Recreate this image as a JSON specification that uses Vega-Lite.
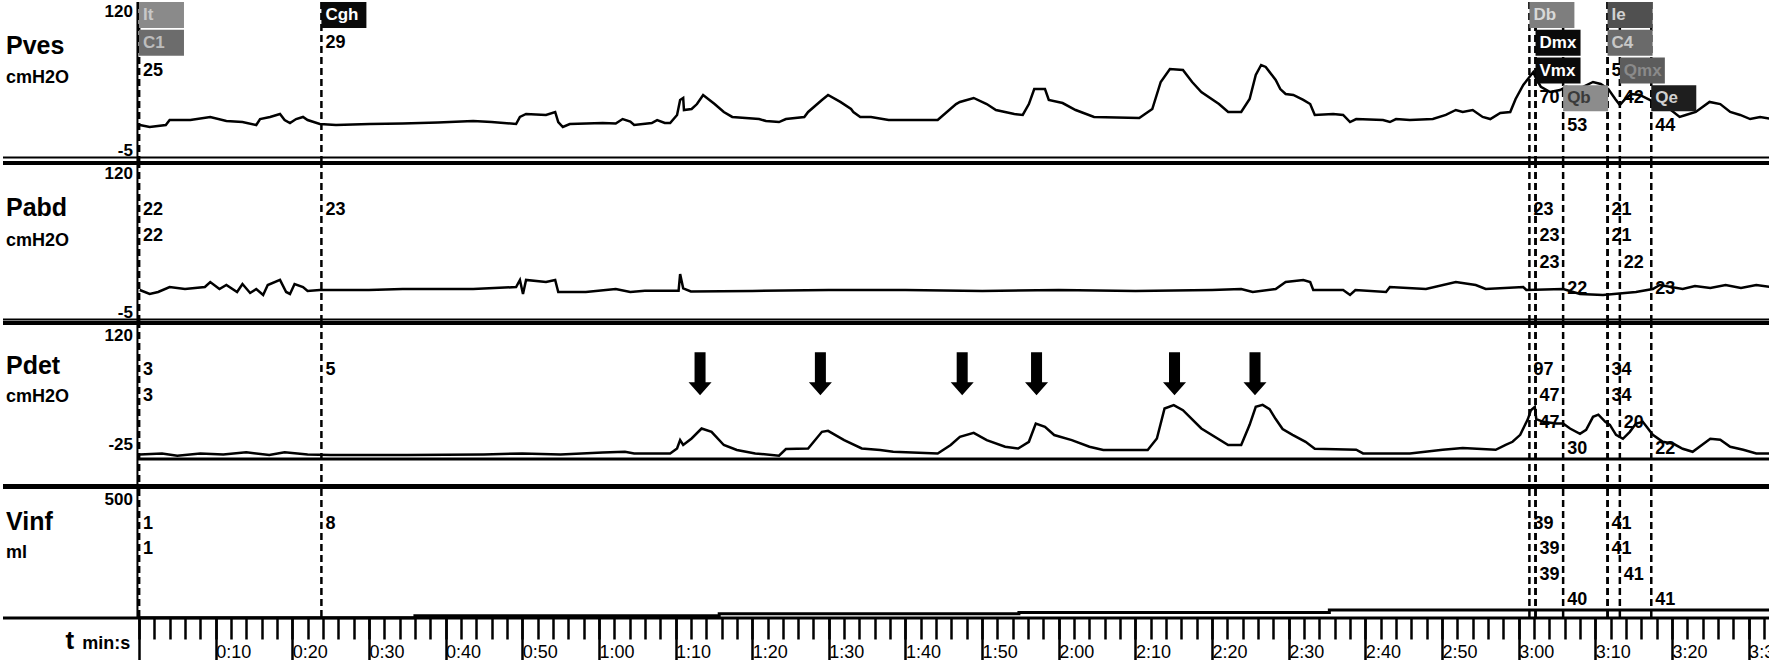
{
"$schema": "https://vega.github.io/schema/vega-lite/v6.json",
"padding": 0,
"background": "white",
"spacing": 0,
"bounds": "flush",
"config": {"view": {"stroke": null}, "font": "Liberation Sans"},
"datasets": {
"events": [
{"name":"It","t":0,"row":1},{"name":"C1","t":0,"row":2},{"name":"Cgh","t":23.8,"row":1},
{"name":"Db","t":181.4,"row":1},{"name":"Dmx","t":182.2,"row":2},{"name":"Vmx","t":182.2,"row":3},
{"name":"Qb","t":185.8,"row":4},{"name":"Ie","t":191.6,"row":1},{"name":"C4","t":191.6,"row":2},
{"name":"Qmx","t":193.2,"row":3},{"name":"Qe","t":197.3,"row":4}],
"vals": [
{"ch":"Pves","t":0,"row":3,"label":"25"},{"ch":"Pves","t":23.8,"row":2,"label":"29"},{"ch":"Pves","t":182.2,"row":4,"label":"70"},{"ch":"Pves","t":185.8,"row":5,"label":"53"},{"ch":"Pves","t":191.6,"row":3,"label":"55"},{"ch":"Pves","t":193.2,"row":4,"label":"42"},{"ch":"Pves","t":197.3,"row":5,"label":"44"},
{"ch":"Pabd","t":0,"row":2,"label":"22"},{"ch":"Pabd","t":0,"row":3,"label":"22"},{"ch":"Pabd","t":23.8,"row":2,"label":"23"},{"ch":"Pabd","t":181.4,"row":2,"label":"23"},{"ch":"Pabd","t":182.2,"row":3,"label":"23"},{"ch":"Pabd","t":182.2,"row":4,"label":"23"},{"ch":"Pabd","t":185.8,"row":5,"label":"22"},{"ch":"Pabd","t":191.6,"row":2,"label":"21"},{"ch":"Pabd","t":191.6,"row":3,"label":"21"},{"ch":"Pabd","t":193.2,"row":4,"label":"22"},{"ch":"Pabd","t":197.3,"row":5,"label":"23"},
{"ch":"Pdet","t":0,"row":2,"label":"3"},{"ch":"Pdet","t":0,"row":3,"label":"3"},{"ch":"Pdet","t":23.8,"row":2,"label":"5"},{"ch":"Pdet","t":181.4,"row":2,"label":"97"},{"ch":"Pdet","t":182.2,"row":3,"label":"47"},{"ch":"Pdet","t":182.2,"row":4,"label":"47"},{"ch":"Pdet","t":185.8,"row":5,"label":"30"},{"ch":"Pdet","t":191.6,"row":2,"label":"34"},{"ch":"Pdet","t":191.6,"row":3,"label":"34"},{"ch":"Pdet","t":193.2,"row":4,"label":"20"},{"ch":"Pdet","t":197.3,"row":5,"label":"22"},
{"ch":"Vinf","t":0,"row":2,"label":"1"},{"ch":"Vinf","t":0,"row":3,"label":"1"},{"ch":"Vinf","t":23.8,"row":2,"label":"8"},{"ch":"Vinf","t":181.4,"row":2,"label":"39"},{"ch":"Vinf","t":182.2,"row":3,"label":"39"},{"ch":"Vinf","t":182.2,"row":4,"label":"39"},{"ch":"Vinf","t":185.8,"row":5,"label":"40"},{"ch":"Vinf","t":191.6,"row":2,"label":"41"},{"ch":"Vinf","t":191.6,"row":3,"label":"41"},{"ch":"Vinf","t":193.2,"row":4,"label":"41"},{"ch":"Vinf","t":197.3,"row":5,"label":"41"}],
"arrows": [{"t":73.2},{"t":88.9},{"t":107.4},{"t":117.1},{"t":135.1},{"t":145.6}],
"pves": [
{"t":0.1,"v":20.8},{"t":1.4,"v":19.2},{"t":3.5,"v":20.8},{"t":4.0,"v":24.8},{"t":6.7,"v":24.8},{"t":9.3,"v":27.3},{"t":11.4,"v":24.0},{"t":13.5,"v":23.2},{"t":15.3,"v":20.8},{"t":15.8,"v":25.6},{"t":17.1,"v":27.3},{"t":18.4,"v":29.7},{"t":19.0,"v":24.8},{"t":19.7,"v":22.4},{"t":20.5,"v":25.6},{"t":21.4,"v":27.3},{"t":22.0,"v":24.8},{"t":23.6,"v":21.6},{"t":25.7,"v":20.8},{"t":30.1,"v":21.6},{"t":34.4,"v":22.0},{"t":39.0,"v":22.8},{"t":43.6,"v":24.0},{"t":46.0,"v":23.2},{"t":49.2,"v":21.6},{"t":49.7,"v":27.3},{"t":50.5,"v":29.7},{"t":53.1,"v":28.9},{"t":54.3,"v":31.3},{"t":54.7,"v":23.2},{"t":55.3,"v":19.2},{"t":56.2,"v":21.6},{"t":60.5,"v":22.4},{"t":62.2,"v":22.0},{"t":63.1,"v":25.6},{"t":64.1,"v":23.6},{"t":64.6,"v":20.8},{"t":66.9,"v":22.4},{"t":67.6,"v":24.8},{"t":68.6,"v":22.4},{"t":69.3,"v":22.4},{"t":70.2,"v":28.9},{"t":70.6,"v":41.0},{"t":71.0,"v":42.6},{"t":71.1,"v":32.9},{"t":72.1,"v":33.7},{"t":72.8,"v":37.7},{"t":73.6,"v":45.0},{"t":75.1,"v":37.7},{"t":76.3,"v":31.3},{"t":77.4,"v":27.3},{"t":80.9,"v":25.6},{"t":81.8,"v":24.0},{"t":83.5,"v":23.2},{"t":84.4,"v":25.6},{"t":86.8,"v":27.3},{"t":87.3,"v":31.3},{"t":89.1,"v":41.0},{"t":89.9,"v":45.0},{"t":91.5,"v":39.4},{"t":92.9,"v":33.7},{"t":93.2,"v":31.3},{"t":94.1,"v":27.3},{"t":95.5,"v":27.3},{"t":97.8,"v":24.8},{"t":104.2,"v":24.8},{"t":106.6,"v":37.7},{"t":107.1,"v":39.4},{"t":108.9,"v":42.6},{"t":110.6,"v":37.7},{"t":111.8,"v":32.9},{"t":114.2,"v":29.7},{"t":115.3,"v":28.9},{"t":116.1,"v":37.7},{"t":116.8,"v":49.8},{"t":118.2,"v":49.8},{"t":118.7,"v":41.0},{"t":120.5,"v":38.5},{"t":122.2,"v":32.9},{"t":124.6,"v":27.3},{"t":130.5,"v":26.5},{"t":132.2,"v":33.7},{"t":133.3,"v":55.5},{"t":134.5,"v":66.0},{"t":136.2,"v":65.2},{"t":137.4,"v":55.5},{"t":138.6,"v":47.4},{"t":140.9,"v":37.7},{"t":142.1,"v":31.3},{"t":143.8,"v":31.3},{"t":144.9,"v":41.8},{"t":145.7,"v":61.1},{"t":146.4,"v":69.2},{"t":147.0,"v":67.6},{"t":148.3,"v":57.1},{"t":148.9,"v":49.8},{"t":149.6,"v":45.8},{"t":150.6,"v":45.0},{"t":151.9,"v":41.0},{"t":152.8,"v":37.7},{"t":153.4,"v":28.9},{"t":155.8,"v":29.7},{"t":157.1,"v":28.9},{"t":158.0,"v":23.2},{"t":158.8,"v":25.6},{"t":162.3,"v":24.8},{"t":163.2,"v":23.2},{"t":164.0,"v":25.6},{"t":165.8,"v":24.8},{"t":168.8,"v":25.6},{"t":170.5,"v":28.9},{"t":171.8,"v":32.9},{"t":172.7,"v":31.3},{"t":174.0,"v":32.9},{"t":175.3,"v":27.3},{"t":176.3,"v":25.6},{"t":177.6,"v":30.5},{"t":178.9,"v":31.3},{"t":179.6,"v":41.8},{"t":180.6,"v":53.1},{"t":181.9,"v":63.5},{"t":182.3,"v":57.9},{"t":182.9,"v":51.5},{"t":184.1,"v":47.4},{"t":185.4,"v":49.0},{"t":186.2,"v":51.5},{"t":187.5,"v":49.8},{"t":188.4,"v":51.5},{"t":189.7,"v":55.5},{"t":190.7,"v":53.9},{"t":191.7,"v":49.8},{"t":192.6,"v":41.8},{"t":193.2,"v":36.9},{"t":193.9,"v":41.8},{"t":194.7,"v":45.8},{"t":195.8,"v":45.0},{"t":197.1,"v":41.0},{"t":198.4,"v":36.9},{"t":199.7,"v":33.7},{"t":201.0,"v":27.3},{"t":201.8,"v":28.9},{"t":203.1,"v":31.3},{"t":204.9,"v":39.4},{"t":206.3,"v":37.7},{"t":207.6,"v":31.3},{"t":208.9,"v":28.9},{"t":210.2,"v":25.6},{"t":211.5,"v":27.3},{"t":213.0,"v":25.6}],
"pabd": [
{"t":0.1,"v":19.2},{"t":1.4,"v":16.0},{"t":2.5,"v":17.6},{"t":4.0,"v":21.6},{"t":6.0,"v":20.0},{"t":8.6,"v":21.6},{"t":9.3,"v":25.6},{"t":10.5,"v":20.0},{"t":11.4,"v":23.2},{"t":12.8,"v":17.6},{"t":13.5,"v":24.0},{"t":14.5,"v":16.8},{"t":15.3,"v":20.0},{"t":16.2,"v":15.2},{"t":16.8,"v":23.2},{"t":18.4,"v":27.3},{"t":19.2,"v":17.6},{"t":19.7,"v":16.0},{"t":20.3,"v":24.0},{"t":21.4,"v":21.6},{"t":22.0,"v":18.4},{"t":23.6,"v":19.2},{"t":30.0,"v":19.2},{"t":34.4,"v":20.0},{"t":43.6,"v":20.0},{"t":49.2,"v":21.6},{"t":49.7,"v":27.3},{"t":50.1,"v":16.0},{"t":50.5,"v":27.3},{"t":53.1,"v":25.6},{"t":54.3,"v":27.3},{"t":54.7,"v":17.6},{"t":58.3,"v":17.6},{"t":62.2,"v":20.0},{"t":64.1,"v":17.6},{"t":66.0,"v":18.5},{"t":70.4,"v":18.5},{"t":70.6,"v":32.1},{"t":71.0,"v":20.5},{"t":72.0,"v":18.0},{"t":80.0,"v":18.4},{"t":90.0,"v":19.2},{"t":100.0,"v":19.2},{"t":110.0,"v":18.4},{"t":120.0,"v":19.2},{"t":130.0,"v":18.4},{"t":140.0,"v":19.2},{"t":143.8,"v":20.0},{"t":145.3,"v":17.6},{"t":148.3,"v":20.0},{"t":149.6,"v":25.6},{"t":151.9,"v":27.3},{"t":152.8,"v":25.6},{"t":153.2,"v":19.2},{"t":157.1,"v":19.2},{"t":158.0,"v":15.2},{"t":158.7,"v":19.2},{"t":162.7,"v":17.6},{"t":163.2,"v":21.6},{"t":167.9,"v":20.0},{"t":171.8,"v":25.6},{"t":174.4,"v":23.2},{"t":175.7,"v":20.0},{"t":180.6,"v":21.6},{"t":181.0,"v":19.2},{"t":185.8,"v":20.0},{"t":188.0,"v":16.0},{"t":191.0,"v":15.2},{"t":195.3,"v":17.6},{"t":197.5,"v":20.0},{"t":198.4,"v":23.2},{"t":201.4,"v":20.0},{"t":203.0,"v":22.4},{"t":205.0,"v":20.8},{"t":207.0,"v":23.2},{"t":209.0,"v":20.8},{"t":211.0,"v":23.2},{"t":213.0,"v":21.6}],
"pdet": [
{"t":0.1,"v":4.0},{"t":3.0,"v":5.0},{"t":5.0,"v":3.0},{"t":8.0,"v":5.0},{"t":11.0,"v":4.0},{"t":14.0,"v":6.0},{"t":17.0,"v":3.5},{"t":19.0,"v":6.0},{"t":22.0,"v":4.0},{"t":25.0,"v":3.5},{"t":35.0,"v":3.5},{"t":45.0,"v":4.0},{"t":50.0,"v":5.0},{"t":55.0,"v":4.0},{"t":60.5,"v":5.9},{"t":63.4,"v":6.5},{"t":64.6,"v":4.9},{"t":69.3,"v":4.9},{"t":70.2,"v":9.5},{"t":70.6,"v":17.0},{"t":71.0,"v":12.6},{"t":72.1,"v":18.5},{"t":73.4,"v":27.5},{"t":74.7,"v":24.5},{"t":76.3,"v":12.6},{"t":78.0,"v":8.1},{"t":80.4,"v":5.0},{"t":83.5,"v":2.9},{"t":84.4,"v":9.0},{"t":87.3,"v":9.5},{"t":89.1,"v":24.5},{"t":89.9,"v":25.4},{"t":92.0,"v":17.0},{"t":94.3,"v":9.5},{"t":96.7,"v":8.1},{"t":98.4,"v":6.5},{"t":104.2,"v":5.0},{"t":105.9,"v":12.6},{"t":107.1,"v":20.0},{"t":108.9,"v":23.6},{"t":110.6,"v":17.0},{"t":113.0,"v":11.0},{"t":114.7,"v":9.5},{"t":116.1,"v":15.5},{"t":117.0,"v":32.0},{"t":118.2,"v":29.0},{"t":119.4,"v":21.6},{"t":121.7,"v":17.0},{"t":124.0,"v":11.0},{"t":125.8,"v":8.1},{"t":131.6,"v":8.1},{"t":132.8,"v":18.5},{"t":133.8,"v":45.5},{"t":135.0,"v":48.6},{"t":136.2,"v":44.0},{"t":138.6,"v":27.5},{"t":142.1,"v":12.6},{"t":143.8,"v":12.6},{"t":144.9,"v":30.8},{"t":145.7,"v":47.0},{"t":146.6,"v":48.8},{"t":147.5,"v":45.0},{"t":148.3,"v":36.0},{"t":149.2,"v":27.0},{"t":150.5,"v":21.8},{"t":152.2,"v":15.5},{"t":153.4,"v":9.2},{"t":158.8,"v":8.3},{"t":159.7,"v":5.0},{"t":165.8,"v":5.0},{"t":170.1,"v":8.3},{"t":172.7,"v":10.0},{"t":177.0,"v":8.3},{"t":178.3,"v":12.8},{"t":179.2,"v":15.5},{"t":180.2,"v":21.8},{"t":181.2,"v":36.0},{"t":181.6,"v":44.0},{"t":182.1,"v":47.0},{"t":182.3,"v":36.0},{"t":183.2,"v":33.5},{"t":184.9,"v":32.0},{"t":185.8,"v":32.0},{"t":186.7,"v":27.5},{"t":188.0,"v":22.7},{"t":188.8,"v":26.3},{"t":189.7,"v":38.0},{"t":190.4,"v":40.0},{"t":191.3,"v":33.5},{"t":191.9,"v":30.8},{"t":192.7,"v":21.8},{"t":193.6,"v":18.2},{"t":194.5,"v":24.5},{"t":195.3,"v":32.0},{"t":196.2,"v":33.5},{"t":197.5,"v":21.8},{"t":198.8,"v":15.5},{"t":200.2,"v":13.7},{"t":201.4,"v":9.2},{"t":202.7,"v":6.5},{"t":205.0,"v":18.2},{"t":206.3,"v":17.3},{"t":207.6,"v":11.0},{"t":209.3,"v":8.3},{"t":211.0,"v":5.0},{"t":213.0,"v":5.0}],
"vinf": [{"t":0,"v":1},{"t":36.0,"v":9},{"t":75.7,"v":17},{"t":114.8,"v":22},{"t":155.3,"v":32},{"t":213.0,"v":32}]
},
"vconcat": [
{
"width": 1769, "height": 159,
"resolve": {"scale": {"y": "independent"}},
"layer": [
{"data": {"values": [{}]}, "mark": {"type": "rule", "color": "black", "strokeWidth": 2}, "encoding": {"y": {"datum": -5.4, "type": "quantitative", "scale": {"domain": [-8.23, 120], "nice": false, "zero": false}, "axis": null}}},
{"data": {"values": [{}]}, "mark": {"type": "rule", "color": "black", "strokeWidth": 2}, "encoding": {"x": {"datum": -0.2, "type": "quantitative", "scale": {"domain": [-17.74, 213.05], "nice": false, "zero": false}, "axis": null}}},
{"data": {"name": "events"}, "mark": {"type": "rule", "color": "black", "strokeWidth": 2.5, "strokeDash": [7, 4]}, "encoding": {"x": {"field": "t", "type": "quantitative", "scale": {"domain": [-17.74, 213.05], "nice": false, "zero": false}, "axis": null}}},
{"data": {"name": "pves"}, "mark": {"type": "line", "color": "black", "strokeWidth": 2.5}, "encoding": {"x": {"field": "t", "type": "quantitative", "scale": {"domain": [-17.74, 213.05], "nice": false, "zero": false}, "axis": null}, "y": {"field": "v", "type": "quantitative", "scale": {"domain": [-8.23, 120], "nice": false, "zero": false}, "axis": null}}},
{"data": {"values": [{"txt": "120", "v": 120}]}, "mark": {"type": "text", "align": "right", "baseline": "top", "dy": 2, "fontSize": 17, "fontWeight": "bold", "color": "black"}, "encoding": {"text": {"field": "txt"}, "x": {"datum": -0.78, "type": "quantitative", "scale": {"domain": [-17.74, 213.05], "nice": false, "zero": false}, "axis": null}, "y": {"field": "v", "type": "quantitative", "scale": {"domain": [-8.23, 120], "nice": false, "zero": false}, "axis": null}}},
{"data": {"values": [{"txt": "-5", "v": -5}]}, "mark": {"type": "text", "align": "right", "baseline": "bottom", "dy": 3, "fontSize": 17, "fontWeight": "bold", "color": "black"}, "encoding": {"text": {"field": "txt"}, "x": {"datum": -0.78, "type": "quantitative", "scale": {"domain": [-17.74, 213.05], "nice": false, "zero": false}, "axis": null}, "y": {"field": "v", "type": "quantitative", "scale": {"domain": [-8.23, 120], "nice": false, "zero": false}, "axis": null}}},
{"data": {"values": [{"txt": "Pves", "v": 84.5}]}, "mark": {"type": "text", "align": "left", "baseline": "middle", "fontSize": 25, "fontWeight": "bold", "color": "black"}, "encoding": {"text": {"field": "txt"}, "x": {"datum": -17.35, "type": "quantitative", "scale": {"domain": [-17.74, 213.05], "nice": false, "zero": false}, "axis": null}, "y": {"field": "v", "type": "quantitative", "scale": {"domain": [-8.23, 120], "nice": false, "zero": false}, "axis": null}}},
{"data": {"values": [{"txt": "cmH2O", "v": 58.7}]}, "mark": {"type": "text", "align": "left", "baseline": "middle", "fontSize": 18, "fontWeight": "bold", "color": "black"}, "encoding": {"text": {"field": "txt"}, "x": {"datum": -17.35, "type": "quantitative", "scale": {"domain": [-17.74, 213.05], "nice": false, "zero": false}, "axis": null}, "y": {"field": "v", "type": "quantitative", "scale": {"domain": [-8.23, 120], "nice": false, "zero": false}, "axis": null}}},
{"data": {"name": "vals"}, "transform": [{"filter": "datum.ch == 'Pves'"}], "mark": {"type": "text", "align": "left", "baseline": "middle", "dx": 4, "fontSize": 18, "fontWeight": "bold", "color": "black"}, "encoding": {"text": {"field": "label"}, "x": {"field": "t", "type": "quantitative", "scale": {"domain": [-17.74, 213.05], "nice": false, "zero": false}, "axis": null}, "y": {"field": "row", "type": "quantitative", "scale": {"domain": [0.5315, 6.261], "nice": false, "zero": false, "reverse": true}, "axis": null}}},
{"data": {"name": "events"}, "mark": {"type": "point", "shape": "M0,-0.578H2V0.578H0Z", "size": 2025, "filled": true, "opacity": 1, "strokeWidth": 0}, "encoding": {"x": {"field": "t", "type": "quantitative", "scale": {"domain": [-17.74, 213.05], "nice": false, "zero": false}, "axis": null}, "y": {"field": "row", "type": "quantitative", "scale": {"domain": [0.5315, 6.261], "nice": false, "zero": false, "reverse": true}, "axis": null}, "fill": {"field": "name", "type": "nominal", "legend": null, "scale": {"domain": ["It","C1","Cgh","Db","Dmx","Vmx","Qb","Ie","C4","Qmx","Qe"], "range": ["#8a8a8a","#6c6c6c","#0a0a0a","#7e7e7e","#0a0a0a","#0a0a0a","#8c8c8c","#505050","#6a6a6a","#5c5c5c","#1e1e1e"]}}}},
{"data": {"name": "events"}, "mark": {"type": "text", "align": "left", "baseline": "middle", "dx": 4, "fontSize": 17, "fontWeight": "bold"}, "encoding": {"text": {"field": "name"}, "x": {"field": "t", "type": "quantitative", "scale": {"domain": [-17.74, 213.05], "nice": false, "zero": false}, "axis": null}, "y": {"field": "row", "type": "quantitative", "scale": {"domain": [0.5315, 6.261], "nice": false, "zero": false, "reverse": true}, "axis": null}, "color": {"field": "name", "type": "nominal", "legend": null, "scale": {"domain": ["It","C1","Cgh","Db","Dmx","Vmx","Qb","Ie","C4","Qmx","Qe"], "range": ["#c8c8c8","#bdbdbd","#ffffff","#d8d8d8","#ffffff","#ffffff","#3a3a3a","#d0d0d0","#c8c8c8","#8a8a8a","#d0d0d0"]}}}}
]
},
{
"width": 1769, "height": 160,
"resolve": {"scale": {"y": "independent"}},
"layer": [
{"data": {"values": [{}]}, "mark": {"type": "rule", "color": "black", "strokeWidth": 4}, "encoding": {"y": {"datum": 121.6, "type": "quantitative", "scale": {"domain": [-5.81, 123.23], "nice": false, "zero": false}, "axis": null}}},
{"data": {"values": [{}]}, "mark": {"type": "rule", "color": "black", "strokeWidth": 2}, "encoding": {"y": {"datum": -4.6, "type": "quantitative", "scale": {"domain": [-5.81, 123.23], "nice": false, "zero": false}, "axis": null}}},
{"data": {"values": [{}]}, "mark": {"type": "rule", "color": "black", "strokeWidth": 2}, "encoding": {"x": {"datum": -0.2, "type": "quantitative", "scale": {"domain": [-17.74, 213.05], "nice": false, "zero": false}, "axis": null}}},
{"data": {"name": "events"}, "mark": {"type": "rule", "color": "black", "strokeWidth": 2.5, "strokeDash": [7, 4]}, "encoding": {"x": {"field": "t", "type": "quantitative", "scale": {"domain": [-17.74, 213.05], "nice": false, "zero": false}, "axis": null}}},
{"data": {"name": "pabd"}, "mark": {"type": "line", "color": "black", "strokeWidth": 2.5}, "encoding": {"x": {"field": "t", "type": "quantitative", "scale": {"domain": [-17.74, 213.05], "nice": false, "zero": false}, "axis": null}, "y": {"field": "v", "type": "quantitative", "scale": {"domain": [-5.81, 123.23], "nice": false, "zero": false}, "axis": null}}},
{"data": {"values": [{"txt": "120", "v": 120}]}, "mark": {"type": "text", "align": "right", "baseline": "top", "dy": 1, "fontSize": 17, "fontWeight": "bold", "color": "black"}, "encoding": {"text": {"field": "txt"}, "x": {"datum": -0.78, "type": "quantitative", "scale": {"domain": [-17.74, 213.05], "nice": false, "zero": false}, "axis": null}, "y": {"field": "v", "type": "quantitative", "scale": {"domain": [-5.81, 123.23], "nice": false, "zero": false}, "axis": null}}},
{"data": {"values": [{"txt": "-5", "v": -5}]}, "mark": {"type": "text", "align": "right", "baseline": "bottom", "dy": 2, "fontSize": 17, "fontWeight": "bold", "color": "black"}, "encoding": {"text": {"field": "txt"}, "x": {"datum": -0.78, "type": "quantitative", "scale": {"domain": [-17.74, 213.05], "nice": false, "zero": false}, "axis": null}, "y": {"field": "v", "type": "quantitative", "scale": {"domain": [-5.81, 123.23], "nice": false, "zero": false}, "axis": null}}},
{"data": {"values": [{"txt": "Pabd", "v": 85.3}]}, "mark": {"type": "text", "align": "left", "baseline": "middle", "fontSize": 25, "fontWeight": "bold", "color": "black"}, "encoding": {"text": {"field": "txt"}, "x": {"datum": -17.35, "type": "quantitative", "scale": {"domain": [-17.74, 213.05], "nice": false, "zero": false}, "axis": null}, "y": {"field": "v", "type": "quantitative", "scale": {"domain": [-5.81, 123.23], "nice": false, "zero": false}, "axis": null}}},
{"data": {"values": [{"txt": "cmH2O", "v": 58.7}]}, "mark": {"type": "text", "align": "left", "baseline": "middle", "fontSize": 18, "fontWeight": "bold", "color": "black"}, "encoding": {"text": {"field": "txt"}, "x": {"datum": -17.35, "type": "quantitative", "scale": {"domain": [-17.74, 213.05], "nice": false, "zero": false}, "axis": null}, "y": {"field": "v", "type": "quantitative", "scale": {"domain": [-5.81, 123.23], "nice": false, "zero": false}, "axis": null}}},
{"data": {"name": "vals"}, "transform": [{"filter": "datum.ch == 'Pabd'"}], "mark": {"type": "text", "align": "left", "baseline": "middle", "dx": 4, "fontSize": 18, "fontWeight": "bold", "color": "black"}, "encoding": {"text": {"field": "label"}, "x": {"field": "t", "type": "quantitative", "scale": {"domain": [-17.74, 213.05], "nice": false, "zero": false}, "axis": null}, "y": {"field": "row", "type": "quantitative", "scale": {"domain": [0.137, 6.2205], "nice": false, "zero": false, "reverse": true}, "axis": null}}}
]
},
{
"width": 1769, "height": 168,
"resolve": {"scale": {"y": "independent"}},
"layer": [
{"data": {"values": [{}]}, "mark": {"type": "rule", "color": "black", "strokeWidth": 4}, "encoding": {"y": {"datum": 122.7, "type": "quantitative", "scale": {"domain": [-27.1, 124.5], "nice": false, "zero": false}, "axis": null}}},
{"data": {"values": [{}]}, "mark": {"type": "rule", "color": "black", "strokeWidth": 5}, "encoding": {"y": {"datum": -24.8, "type": "quantitative", "scale": {"domain": [-27.1, 124.5], "nice": false, "zero": false}, "axis": null}}},
{"data": {"values": [{}]}, "mark": {"type": "rule", "color": "black", "strokeWidth": 3}, "encoding": {"x": {"datum": -0.2, "type": "quantitative", "scale": {"domain": [-17.74, 213.05], "nice": false, "zero": false}, "axis": null}, "x2": {"datum": 213.05}, "y": {"datum": 0, "type": "quantitative", "scale": {"domain": [-27.1, 124.5], "nice": false, "zero": false}, "axis": null}}},
{"data": {"values": [{}]}, "mark": {"type": "rule", "color": "black", "strokeWidth": 2}, "encoding": {"x": {"datum": -0.2, "type": "quantitative", "scale": {"domain": [-17.74, 213.05], "nice": false, "zero": false}, "axis": null}}},
{"data": {"name": "events"}, "mark": {"type": "rule", "color": "black", "strokeWidth": 2.5, "strokeDash": [7, 4]}, "encoding": {"x": {"field": "t", "type": "quantitative", "scale": {"domain": [-17.74, 213.05], "nice": false, "zero": false}, "axis": null}}},
{"data": {"name": "pdet"}, "mark": {"type": "line", "color": "black", "strokeWidth": 2.5}, "encoding": {"x": {"field": "t", "type": "quantitative", "scale": {"domain": [-17.74, 213.05], "nice": false, "zero": false}, "axis": null}, "y": {"field": "v", "type": "quantitative", "scale": {"domain": [-27.1, 124.5], "nice": false, "zero": false}, "axis": null}}},
{"data": {"name": "arrows"}, "mark": {"type": "point", "shape": "M-0.256,-1H0.256V0.395H0.535L0,1L-0.535,0.395H-0.256Z", "size": 1849, "filled": true, "opacity": 1, "color": "black", "strokeWidth": 0}, "encoding": {"x": {"field": "t", "type": "quantitative", "scale": {"domain": [-17.74, 213.05], "nice": false, "zero": false}, "axis": null}, "y": {"datum": 77, "type": "quantitative", "scale": {"domain": [-27.1, 124.5], "nice": false, "zero": false}, "axis": null}}},
{"data": {"values": [{"txt": "120", "v": 120}]}, "mark": {"type": "text", "align": "right", "baseline": "top", "dy": 2, "fontSize": 17, "fontWeight": "bold", "color": "black"}, "encoding": {"text": {"field": "txt"}, "x": {"datum": -0.78, "type": "quantitative", "scale": {"domain": [-17.74, 213.05], "nice": false, "zero": false}, "axis": null}, "y": {"field": "v", "type": "quantitative", "scale": {"domain": [-27.1, 124.5], "nice": false, "zero": false}, "axis": null}}},
{"data": {"values": [{"txt": "-25", "v": -25}]}, "mark": {"type": "text", "align": "right", "baseline": "middle", "dy": -42, "fontSize": 17, "fontWeight": "bold", "color": "black"}, "encoding": {"text": {"field": "txt"}, "x": {"datum": -0.78, "type": "quantitative", "scale": {"domain": [-17.74, 213.05], "nice": false, "zero": false}, "axis": null}, "y": {"field": "v", "type": "quantitative", "scale": {"domain": [-27.1, 124.5], "nice": false, "zero": false}, "axis": null}}},
{"data": {"values": [{"txt": "Pdet", "v": 83.9}]}, "mark": {"type": "text", "align": "left", "baseline": "middle", "fontSize": 25, "fontWeight": "bold", "color": "black"}, "encoding": {"text": {"field": "txt"}, "x": {"datum": -17.35, "type": "quantitative", "scale": {"domain": [-17.74, 213.05], "nice": false, "zero": false}, "axis": null}, "y": {"field": "v", "type": "quantitative", "scale": {"domain": [-27.1, 124.5], "nice": false, "zero": false}, "axis": null}}},
{"data": {"values": [{"txt": "cmH2O", "v": 55.9}]}, "mark": {"type": "text", "align": "left", "baseline": "middle", "fontSize": 18, "fontWeight": "bold", "color": "black"}, "encoding": {"text": {"field": "txt"}, "x": {"datum": -17.35, "type": "quantitative", "scale": {"domain": [-17.74, 213.05], "nice": false, "zero": false}, "axis": null}, "y": {"field": "v", "type": "quantitative", "scale": {"domain": [-27.1, 124.5], "nice": false, "zero": false}, "axis": null}}},
{"data": {"name": "vals"}, "transform": [{"filter": "datum.ch == 'Pdet'"}], "mark": {"type": "text", "align": "left", "baseline": "middle", "dx": 4, "fontSize": 18, "fontWeight": "bold", "color": "black"}, "encoding": {"text": {"field": "label"}, "x": {"field": "t", "type": "quantitative", "scale": {"domain": [-17.74, 213.05], "nice": false, "zero": false}, "axis": null}, "y": {"field": "row", "type": "quantitative", "scale": {"domain": [0.137, 6.525], "nice": false, "zero": false, "reverse": true}, "axis": null}}}
]
},
{
"width": 1769, "height": 129,
"resolve": {"scale": {"y": "independent"}, "axis": {"x": "independent"}},
"layer": [
{"data": {"values": [{}]}, "mark": {"type": "rule", "color": "black", "strokeWidth": 3}, "encoding": {"y": {"datum": 0, "type": "quantitative", "scale": {"domain": [0, 516], "nice": false, "zero": false}, "axis": null}}},
{"data": {"values": [{}]}, "mark": {"type": "rule", "color": "black", "strokeWidth": 2}, "encoding": {"x": {"datum": -0.2, "type": "quantitative", "scale": {"domain": [-17.74, 213.05], "nice": false, "zero": false}, "axis": null}}},
{"data": {"name": "events"}, "mark": {"type": "rule", "color": "black", "strokeWidth": 2.5, "strokeDash": [7, 4]}, "encoding": {"x": {"field": "t", "type": "quantitative", "scale": {"domain": [-17.74, 213.05], "nice": false, "zero": false}, "axis": {"orient": "bottom", "values": [0,10,20,30,40,50,60,70,80,90,100,110,120,130,140,150,160,170,180,190,200,210], "tickSize": 44, "tickWidth": 2.5, "tickColor": "black", "domain": false, "grid": false, "title": null, "labelExpr": "datum.value == 0 ? '' : floor(datum.value/60) + ':' + (datum.value % 60 < 10 ? '0' : '') + (datum.value % 60)", "labelAlign": "left", "labelBaseline": "middle", "labelPadding": -10, "labelFontSize": 18, "labelFont": "Liberation Sans", "labelColor": "black", "labelFlush": false, "labelOverlap": false, "labelBound": false}}}},
{"data": {"name": "vinf"}, "mark": {"type": "line", "color": "black", "strokeWidth": 3, "interpolate": "step-after"}, "encoding": {"x": {"field": "t", "type": "quantitative", "scale": {"domain": [-17.74, 213.05], "nice": false, "zero": false}, "axis": {"orient": "bottom", "values": [0,2,4,6,8,10,12,14,16,18,20,22,24,26,28,30,32,34,36,38,40,42,44,46,48,50,52,54,56,58,60,62,64,66,68,70,72,74,76,78,80,82,84,86,88,90,92,94,96,98,100,102,104,106,108,110,112,114,116,118,120,122,124,126,128,130,132,134,136,138,140,142,144,146,148,150,152,154,156,158,160,162,164,166,168,170,172,174,176,178,180,182,184,186,188,190,192,194,196,198,200,202,204,206,208,210,212], "tickSize": 21, "tickWidth": 2.5, "tickColor": "black", "labels": false, "domain": false, "grid": false, "title": null}}, "y": {"field": "v", "type": "quantitative", "scale": {"domain": [0, 516], "nice": false, "zero": false}, "axis": null}}},
{"data": {"values": [{"txt": "500", "v": 500}]}, "mark": {"type": "text", "align": "right", "baseline": "top", "dy": -1, "fontSize": 17, "fontWeight": "bold", "color": "black"}, "encoding": {"text": {"field": "txt"}, "x": {"datum": -0.78, "type": "quantitative", "scale": {"domain": [-17.74, 213.05], "nice": false, "zero": false}, "axis": null}, "y": {"field": "v", "type": "quantitative", "scale": {"domain": [0, 516], "nice": false, "zero": false}, "axis": null}}},
{"data": {"values": [{"txt": "Vinf", "v": 384}]}, "mark": {"type": "text", "align": "left", "baseline": "middle", "fontSize": 25, "fontWeight": "bold", "color": "black"}, "encoding": {"text": {"field": "txt"}, "x": {"datum": -17.35, "type": "quantitative", "scale": {"domain": [-17.74, 213.05], "nice": false, "zero": false}, "axis": null}, "y": {"field": "v", "type": "quantitative", "scale": {"domain": [0, 516], "nice": false, "zero": false}, "axis": null}}},
{"data": {"values": [{"txt": "ml", "v": 260}]}, "mark": {"type": "text", "align": "left", "baseline": "middle", "fontSize": 18, "fontWeight": "bold", "color": "black"}, "encoding": {"text": {"field": "txt"}, "x": {"datum": -17.35, "type": "quantitative", "scale": {"domain": [-17.74, 213.05], "nice": false, "zero": false}, "axis": null}, "y": {"field": "v", "type": "quantitative", "scale": {"domain": [0, 516], "nice": false, "zero": false}, "axis": null}}},
{"data": {"values": [{"txt": "t", "v": -124}]}, "mark": {"type": "text", "align": "left", "baseline": "alphabetic", "fontSize": 26, "fontWeight": "bold", "color": "black"}, "encoding": {"text": {"field": "txt"}, "x": {"datum": -9.6, "type": "quantitative", "scale": {"domain": [-17.74, 213.05], "nice": false, "zero": false}, "axis": null}, "y": {"field": "v", "type": "quantitative", "scale": {"domain": [0, 516], "nice": false, "zero": false}, "axis": null}}},
{"data": {"values": [{"txt": "min:s", "v": -124}]}, "mark": {"type": "text", "align": "left", "baseline": "alphabetic", "fontSize": 18, "fontWeight": "bold", "color": "black"}, "encoding": {"text": {"field": "txt"}, "x": {"datum": -7.4, "type": "quantitative", "scale": {"domain": [-17.74, 213.05], "nice": false, "zero": false}, "axis": null}, "y": {"field": "v", "type": "quantitative", "scale": {"domain": [0, 516], "nice": false, "zero": false}, "axis": null}}},
{"data": {"name": "vals"}, "transform": [{"filter": "datum.ch == 'Vinf'"}], "mark": {"type": "text", "align": "left", "baseline": "middle", "dx": 4, "fontSize": 18, "fontWeight": "bold", "color": "black"}, "encoding": {"text": {"field": "label"}, "x": {"field": "t", "type": "quantitative", "scale": {"domain": [-17.74, 213.05], "nice": false, "zero": false}, "axis": null}, "y": {"field": "row", "type": "quantitative", "scale": {"domain": [0.6166, 5.7154], "nice": false, "zero": false, "reverse": true}, "axis": null}}}
]
}
]
}
